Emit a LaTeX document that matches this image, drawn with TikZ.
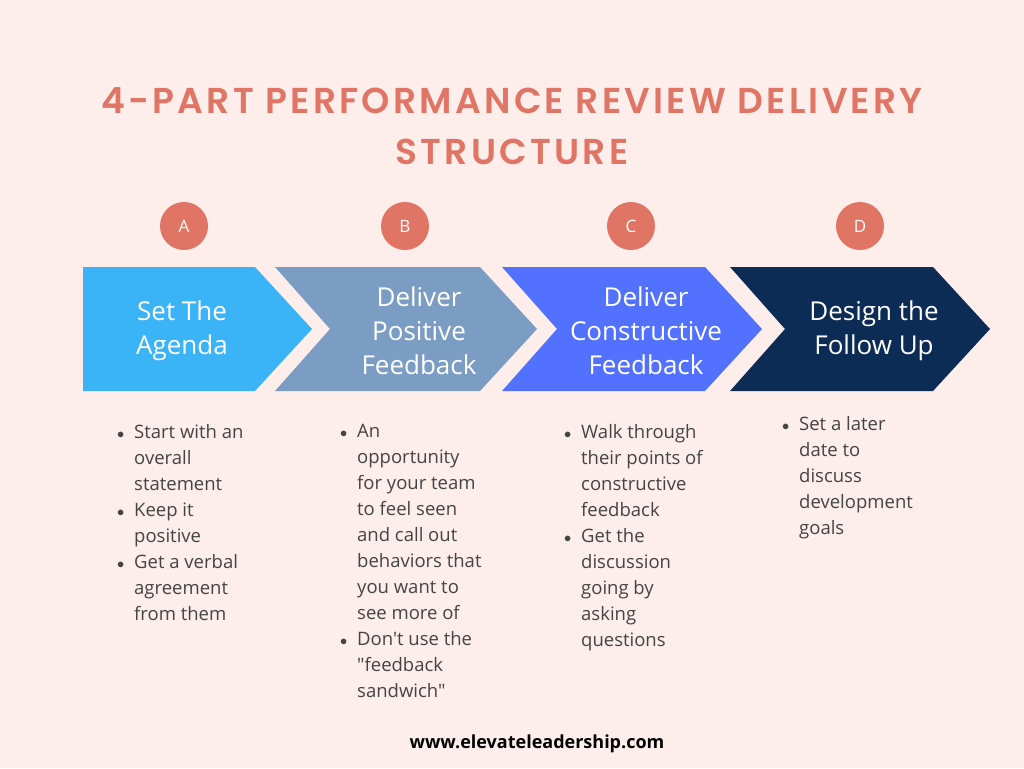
\documentclass[tikz,border=0pt]{standalone}
\usepackage{fontspec}
\setmainfont{Open Sans}[Ligatures=TeXOff]
\newfontfamily\titlefont[LetterSpace=9]{Poppins SemiBold}
\newfontfamily\boldfont{Open Sans Bold}
\definecolor{bg}{HTML}{FDEEEC}
\definecolor{salmon}{HTML}{E07565}
\definecolor{cA}{HTML}{3AB4F7}
\definecolor{cB}{HTML}{7C9DC3}
\definecolor{cC}{HTML}{5271FF}
\definecolor{cD}{HTML}{0C2B55}
\definecolor{txt}{HTML}{444444}
\begin{document}
\begin{tikzpicture}[x=1pt,y=-1pt,
  circ/.style={circle,fill=salmon,minimum size=48pt,inner sep=0pt,text=white,font=\fontsize{17}{17}\selectfont},
  chevtxt/.style={text=white,align=center,font=\fontsize{26}{34}\selectfont},
  blist/.style={anchor=north west,align=left,text=txt,font=\fontsize{18.5}{26}\selectfont,inner sep=0pt}]
\fill[bg] (0,0) rectangle (1024,768);
\useasboundingbox (0,0) rectangle (1024,768);
\node[text=salmon,align=center,font=\fontsize{36}{51}\titlefont] (title) at (512,126) {4-PART PERFORMANCE REVIEW DELIVERY\\STRUCTURE};
\node[circ] (a) at (184,226) {A};
\node[circ] (b) at (405,226) {B};
\node[circ] (c) at (631,226) {C};
\node[circ] (d) at (860,226) {D};
\fill[cA] (83,267) -- (255,267) -- (312,329) -- (255,391) -- (83,391) -- cycle;
\fill[cB] (275,267) -- (480,267) -- (537,329) -- (480,391) -- (275,391) -- (330,329) -- cycle;
\fill[cC] (502,267) -- (705,267) -- (762,329) -- (705,391) -- (502,391) -- (557,329) -- cycle;
\fill[cD] (730,267) -- (933,267) -- (990,329) -- (933,391) -- (730,391) -- (785,329) -- cycle;
\node[chevtxt] (ta) at (182,331) {Set The\\Agenda};
\node[chevtxt] (tb) at (419,331) {Deliver\\Positive\\Feedback};
\node[chevtxt] (tc) at (646,331) {Deliver\\Constructive\\Feedback};
\node[chevtxt] (td) at (874,331) {Design the\\Follow Up};
\newcommand{\bl}{\makebox[17pt][l]{\raisebox{0pt}{\fontsize{15}{15}\selectfont$\bullet$}}}
\newcommand{\ind}{\hspace*{17pt}}
\node[blist] (la) at (117,424) {\bl Start with an\\\ind overall\\\ind statement\\\bl Keep it\\\ind positive\\\bl Get a verbal\\\ind agreement\\\ind from them};
\node[blist] (lb) at (340,424) {\bl An\\\ind opportunity\\\ind for your team\\\ind to feel seen\\\ind and call out\\\ind behaviors that\\\ind you want to\\\ind see more of\\\bl Don't use the\\\ind "feedback\\\ind sandwich"};
\node[blist] (lc) at (564,424) {\bl Walk through\\\ind their points of\\\ind constructive\\\ind feedback\\\bl Get the\\\ind discussion\\\ind going by\\\ind asking\\\ind questions};
\node[blist] (ld) at (782,416) {\bl Set a later\\\ind date to\\\ind discuss\\\ind development\\\ind goals};
\node[font=\fontsize{18}{18}\boldfont] (url) at (537,744) {www.elevateleadership.com};
\end{tikzpicture}
\end{document}
